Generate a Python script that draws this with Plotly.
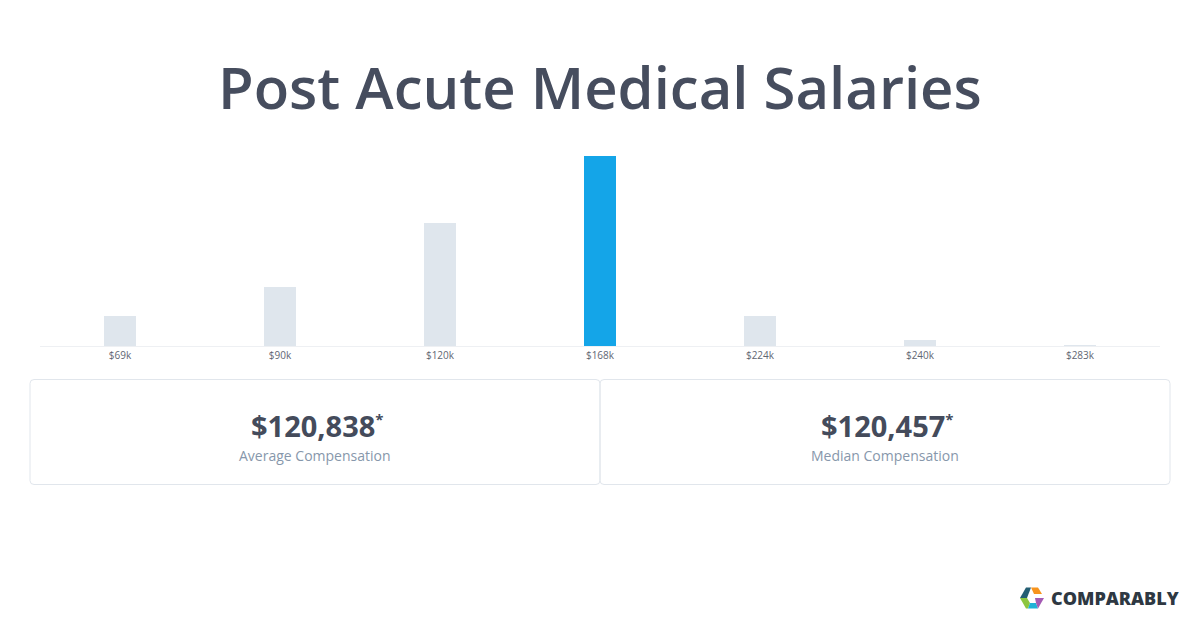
import plotly.graph_objects as go

# ---- data ----
categories = ["$69k", "$90k", "$120k", "$168k", "$224k", "$240k", "$283k"]
counts = [30, 59, 123, 190, 30, 6, 1]
highlight = "$168k"

title_text = "Post Acute Medical Salaries"
stat_values = ["$120,838", "$120,457"]
stat_labels = ["Average Compensation", "Median Compensation"]

W, H = 1200, 630


def px(x):
    return x / W


def py(y):
    return 1 - y / H


bar_colors = ["#14a5e8" if c == highlight else "#dfe6ed" for c in categories]

fig = go.Figure()
fig.add_trace(go.Bar(
    x=categories, y=counts, marker=dict(color=bar_colors, line=dict(width=0)),
    width=0.2, hoverinfo="skip", showlegend=False,
))

shapes = []


def rounded_rect(x0, y0, x1, y1, r=4):
    X0, X1 = px(x0), px(x1)
    Y0, Y1 = py(y0), py(y1)
    rx, ry = r / W, r / H
    p = (f"M {X0+rx},{Y0} L {X1-rx},{Y0} Q {X1},{Y0} {X1},{Y0-ry} "
         f"L {X1},{Y1+ry} Q {X1},{Y1} {X1-rx},{Y1} L {X0+rx},{Y1} "
         f"Q {X0},{Y1} {X0},{Y1+ry} L {X0},{Y0-ry} Q {X0},{Y0} {X0+rx},{Y0} Z")
    return dict(type="path", xref="paper", yref="paper", path=p,
                line=dict(color="#e1e6ec", width=1), fillcolor="rgba(0,0,0,0)", layer="below")


shapes.append(rounded_rect(30, 379.5, 600, 484.5))
shapes.append(rounded_rect(600, 379.5, 1170, 484.5))


def poly(points, color):
    p = "M " + " L ".join(f"{px(x)},{py(y)}" for x, y in points) + " Z"
    return dict(type="path", xref="paper", yref="paper", path=p,
                line=dict(width=0), fillcolor=color)


# logo icon
shapes += [
    poly([(1031, 587.5), (1038, 587.5), (1042, 594), (1034, 594)], "#f7941d"),
    poly([(1026, 587.5), (1031, 587.5), (1027, 598), (1020, 598)], "#245e73"),
    poly([(1020, 598), (1027, 598), (1030, 603), (1028, 608.5), (1026, 608.5)], "#8dc63f"),
    poly([(1030, 603), (1036, 603), (1038, 608.5), (1028, 608.5)], "#1fb1d6"),
    poly([(1035, 598), (1044, 598), (1038, 608.5), (1036, 603)], "#a45ab4"),
]

annotations = [
    dict(text=title_text, x=0.5, y=py(87), xref="paper", yref="paper", showarrow=False,
         xanchor="center", yanchor="middle",
         font=dict(family="Open Sans", size=58, color="#464d5e", weight=600)),
]
for i, (v, lab) in enumerate(zip(stat_values, stat_labels)):
    cx = 315 + i * 570
    annotations.append(dict(text=v + "<sup><span style='font-size:15px'>*</span></sup>",
                            x=px(cx + 2), y=py(425), xref="paper", yref="paper",
                            showarrow=False, xanchor="center", yanchor="middle",
                            font=dict(family="Open Sans", size=29, color="#444b5b", weight="bold")))
    annotations.append(dict(text=lab, x=px(cx), y=py(455), xref="paper", yref="paper",
                            showarrow=False, xanchor="center", yanchor="middle",
                            font=dict(family="Open Sans", size=14, color="#8797ab")))
annotations.append(dict(text="COMPARABLY", x=px(1049), y=py(598), xref="paper", yref="paper",
                        showarrow=False, xanchor="left", yanchor="middle",
                        font=dict(family="Open Sans", size=18, color="#2e3842", weight=800)))

fig.update_layout(
    width=W, height=H, margin=dict(l=0, r=0, t=0, b=0),
    paper_bgcolor="white", plot_bgcolor="white",
    bargap=0,
    xaxis=dict(domain=[px(40), px(1160)], showgrid=False, zeroline=False,
               showline=True, linecolor="#eef0f3", linewidth=1,
               ticks="", tickfont=dict(family="Open Sans", size=10, color="#5f6673"),
               fixedrange=True),
    yaxis=dict(domain=[py(346), py(146)], range=[0, 200], visible=False, fixedrange=True),
    shapes=shapes, annotations=annotations,
)

fig.write_html("out.html", config={"displayModeBar": False},
               post_script="document.body.style.margin='0';")
